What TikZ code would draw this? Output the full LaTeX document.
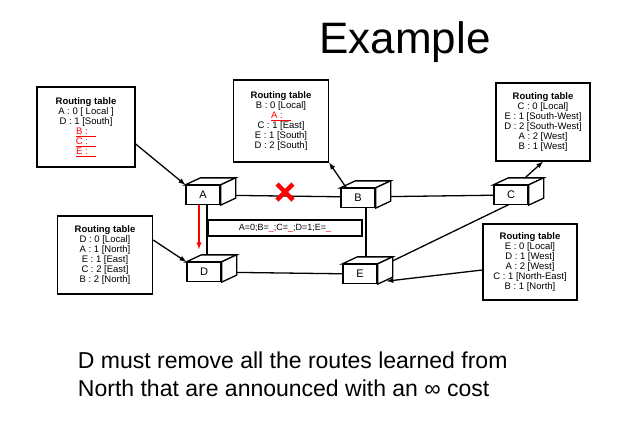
\documentclass[tikz,border=0pt]{standalone}
\usepackage{fontspec}
\setmainfont{Liberation Sans}
\usetikzlibrary{positioning}
\newcommand{\routerbox}[3]{%
  \node[router] (#1) at (#2) {#3};
  \draw[fill=white, -] (#1.north west) -- ++(15,-7) -- ([shift={(15,-7)}]#1.north east) -- (#1.north east) -- cycle;
  \draw[fill=white, -] (#1.north east) -- ++(15,-7) -- ([shift={(15,-7)}]#1.south east) -- (#1.south east) -- cycle;
}
\begin{document}
\begin{tikzpicture}[x=1pt, y=-1pt, -latex, line width=1.3pt,
  router/.style = {draw, fill=white, minimum width=34pt, minimum height=19pt, inner sep=0pt, font=\fontsize{11}{12}\selectfont},
  table/.style = {draw, fill=white, align=center, inner sep=3pt, font=\fontsize{9.5}{10}\selectfont}]
  \useasboundingbox (0,0) rectangle (638,442);
  \node (title) at (405,42) {\fontsize{44}{48}\selectfont Example};

  % links
  \draw[-] (203,195) -- (358,197);
  \draw[-] (358,197) -- (511,195);
  \draw[-] (207,204) -- (207,265);
  \draw[-] (204,272) -- (360,274);
  \draw[-] (366,205) -- (366,266);
  \draw[-] (510,204) -- (378,268);

  \routerbox{A}{203,195}{A}
  \routerbox{B}{358,198}{B}
  \routerbox{C}{511,195}{C}
  \routerbox{D}{204,272}{D}
  \routerbox{E}{360,274}{E}

  \draw[red] ([xshift=-4pt]A.south) -- ++(0,44);
  \coordinate (cut) at (285,192);
  \draw[red, line width=4.5pt, -] (cut) ++(-8,-8) -- ++(16,16);
  \draw[red, line width=4.5pt, -] (cut) ++(-8,8) -- ++(16,-16);

  \node[draw, fill=white, minimum width=154pt, minimum height=16pt, inner sep=1pt, font=\fontsize{9}{10}\selectfont] (msg) at (285,228)
    {A=0;B={\color{red}\_};C={\color{red}\_};D=1;E={\color{red}\_}};

  % routing tables
  \node[table, minimum width=98pt, minimum height=80pt] (tA) at (86,127) {\textbf{Routing table}\\A : 0 [ Local ]\\D : 1 [South]\\\textcolor{red}{\underline{B : \ \ }}\\\textcolor{red}{\underline{C : \ \ }}\\\textcolor{red}{\underline{E : \ \ }}};
  \node[table, minimum width=95pt, minimum height=82pt] (tB) at (281,121) {\textbf{Routing table}\\B : 0 [Local]\\\textcolor{red}{\underline{A : \ \ }}\\C : 1 [East]\\E : 1 [South]\\D : 2 [South]};
  \node[table, minimum width=94pt, minimum height=78pt] (tC) at (543,122) {\textbf{Routing table}\\C : 0 [Local]\\E : 1 [South-West]\\D : 2 [South-West]\\A : 2 [West]\\B : 1 [West]};
  \node[table, minimum width=95pt, minimum height=78pt] (tD) at (105,255) {\textbf{Routing table}\\D : 0 [Local]\\A : 1 [North]\\E : 1 [East]\\C : 2 [East]\\B : 2 [North]};
  \node[table, minimum width=94pt, minimum height=76pt] (tE) at (530,262) {\textbf{Routing table}\\E : 0 [Local]\\D : 1 [West]\\A : 2 [West]\\C : 1 [North-East]\\B : 1 [North]};

  \draw (tA.east) ++(0,17) -- (A.north west);
  \draw ([xshift=6pt]B.north west) -- (tB.south east);
  \draw ([shift={(14,-7)}]C.north) -- (tC.south);
  \draw (tD.east) ++(0,-15) -- (D.north west);
  \draw (tE.west) ++(0,8) -- ([shift={(9,-3)}]E.south east);

  \node[anchor=west, align=left, font=\fontsize{23}{28}\selectfont] (note) at (74,374)
    {D must remove all the routes learned from\\North that are announced with an ∞ cost};
\end{tikzpicture}
\end{document}
